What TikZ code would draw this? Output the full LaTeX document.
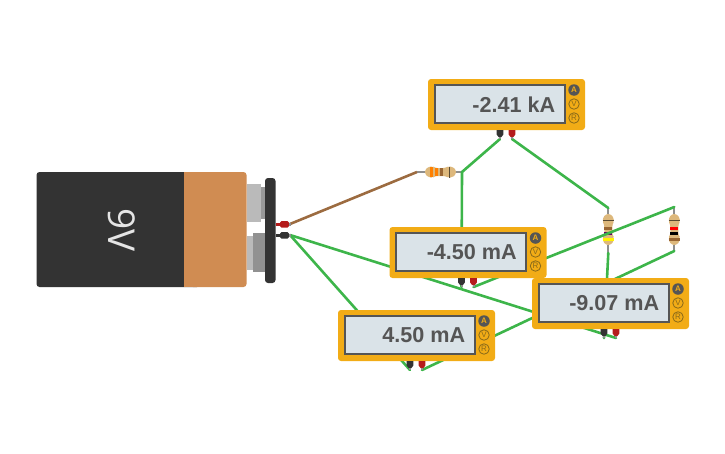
\documentclass[tikz,border=0pt]{standalone}
\usepackage{fontspec}
\setmainfont{Liberation Sans}
\newfontfamily\labelfont{Open Sans}
\usetikzlibrary{backgrounds}
\definecolor{wiregreen}{HTML}{3DB54A}
\definecolor{meterorange}{HTML}{F2AC16}
\definecolor{screenblue}{HTML}{DAE3E8}
\definecolor{darkgrey}{HTML}{555555}
\definecolor{batblack}{HTML}{333333}
\definecolor{batorange}{HTML}{D08C52}
\definecolor{resbody}{HTML}{DDB87C}
\definecolor{leadgrey}{HTML}{8E8E8E}
\definecolor{brownwire}{HTML}{9C6B40}
\definecolor{tipred}{HTML}{B51C1C}
\definecolor{knob}{HTML}{8A6A1A}
\tikzset{
  x=1pt,y=-1pt,
  wire/.style={draw=wiregreen,line width=2.6pt,line cap=round,line join=round},
  lead/.style={draw=leadgrey,line width=2pt},
  meterbody/.style={fill=meterorange,draw=none,rounded corners=3pt,minimum width=157pt,minimum height=51pt,anchor=north west,inner sep=0pt,outer sep=0pt},
  screen/.style={fill=screenblue,draw=darkgrey,line width=2pt,minimum width=130pt,minimum height=38pt,anchor=north west,inner sep=0pt,outer sep=0pt},
  readout/.style={font=\fontsize{21.6}{24}\selectfont\bfseries,text=darkgrey,anchor=east,inner sep=0pt},
  knobon/.style={circle,fill=darkgrey,minimum size=11.5pt,inner sep=0pt,outer sep=0pt,text=meterorange,font=\fontsize{8}{8}\selectfont\bfseries},
  knoboff/.style={circle,draw=knob,line width=.8pt,minimum size=10.5pt,inner sep=0pt,outer sep=0pt,text=knob,font=\fontsize{8}{8}\selectfont}
}
% name, x, y, text
\newcommand{\meterbox}[4]{%
  \node[meterbody] (#1) at (#2,#3) {};
  \begin{scope}[shift={(#2,#3)}]
    \node[screen] (#1s) at (6.5,6) {};
    \node[readout] (#1t) at (127.5,25.5) {#4};
    \node[knobon] (#1a) at (146,11) {A};
    \node[knoboff] (#1v) at (146,25) {V};
    \node[knoboff] (#1r) at (146,39) {R};
    \fill[batblack] (68.7,51) -- (75.3,51) -- (75.3,55.5) -- (73.5,58) -- (70.5,58) -- (68.7,55.5) -- cycle;
    \fill[tipred] (80.7,51) -- (87.3,51) -- (87.3,55.5) -- (85.5,58) -- (82.5,58) -- (80.7,55.5) -- cycle;
    \fill[leadgrey] (71,58) rectangle (73,60);
    \fill[leadgrey] (83,58) rectangle (85,60);
    \coordinate (#1b) at (72,60);
    \coordinate (#1p) at (84,60);
  \end{scope}}
% name, x, y, rotation, top lead, bottom lead, band1, band2, band3
\newcommand{\resistor}[9]{%
  \begin{scope}[shift={(#2,#3)},rotate=#4]
    \coordinate (#1a) at (0,-#5);
    \coordinate (#1b) at (0,31+#6);
    \draw[lead] (#1a) -- (0,0);
    \draw[lead] (0,31) -- (#1b);
    \fill[resbody,rounded corners=2.5pt] (-2.5,0) -- (2.5,0) -- (5.5,4) -- (5.5,8) -- (4,10.5) -- (4,21) -- (5.5,23) -- (5.5,27) -- (2.5,31) -- (-2.5,31) -- (-5.5,27) -- (-5.5,23) -- (-4,21) -- (-4,10.5) -- (-5.5,8) -- (-5.5,4) -- cycle;
    \fill[black!60!resbody] (-5.5,5.6) rectangle (5.5,6.6);
    \fill[#7] (-4,13) rectangle (4,16);
    \fill[#8] (-4,18.2) rectangle (4,21.2);
    \fill[#9] (-5.2,23.5) rectangle (5.2,26.5);
  \end{scope}}
\begin{document}
\begin{tikzpicture}
\useasboundingbox (0,0) rectangle (725,453);
% battery
\coordinate (batred) at (290,224);
\coordinate (batblk) at (290,235);
\fill[batblack,rounded corners=3pt] (36.5,172) rectangle (200,287);
\fill[batorange,rounded corners=3pt] (190,172) rectangle (246.5,287);
\fill[batorange] (184,172) rectangle (195,287);
\fill[black!27] (246.5,184) rectangle (261,222);
\fill[black!40] (261,187) rectangle (265.5,219);
\fill[black!27] (246.5,236) rectangle (254,270);
\fill[black!43] (253,233) rectangle (265.5,272);
\fill[batblack,rounded corners=3pt] (265,178) rectangle (275.5,283);
\node[font=\labelfont\fontsize{37}{40}\selectfont,text=black!10,rotate=-90,inner sep=0pt] (batlabel) at (122,230) {9V};
% battery terminals
\fill[tipred] (275.5,223) rectangle (281,225.5);
\fill[tipred,rounded corners=1.5pt] (280,221) rectangle (289,227.5);
\fill[batblack] (275.5,234) rectangle (281,236.5);
\fill[batblack,rounded corners=1.5pt] (280,232) rectangle (289,238.5);
\fill[leadgrey] (288.5,223) rectangle (290.5,226);
\fill[leadgrey] (288.5,234) rectangle (290.5,237);
% meters
\meterbox{ma}{428}{79}{-2.41 kA}
\meterbox{mb}{389.5}{227}{-4.50 mA}
\meterbox{mc}{532}{278}{-9.07 mA}
\meterbox{md}{338}{310}{4.50 mA}
\begin{pgfonlayer}{background}
% resistors
\resistor{ra}{456}{172}{-90}{6}{8}{brown!80!black}{orange}{orange}
\resistor{rb}{608.3}{214}{0}{6}{8}{brown!80!black}{violet!80!black}{yellow}
\resistor{rc}{674.3}{214}{0}{7}{6}{red}{black}{brown!80!black}
\draw[draw=brownwire,line width=2.6pt] (batred) -- (rab);
\draw[wire] (mab) -- (raa);
\draw[wire] (raa) -- (mbb);
\draw[wire] (map) -- (rba);
\draw[wire] (rbb) -- (mcb);
\draw[wire] (mbp) -- (rca);
\draw[wire] (rcb) -- (mdp);
\draw[wire] (batblk) -- (mcp);
\draw[wire] (batblk) -- (mdb);
\end{pgfonlayer}
\end{tikzpicture}
\end{document}
